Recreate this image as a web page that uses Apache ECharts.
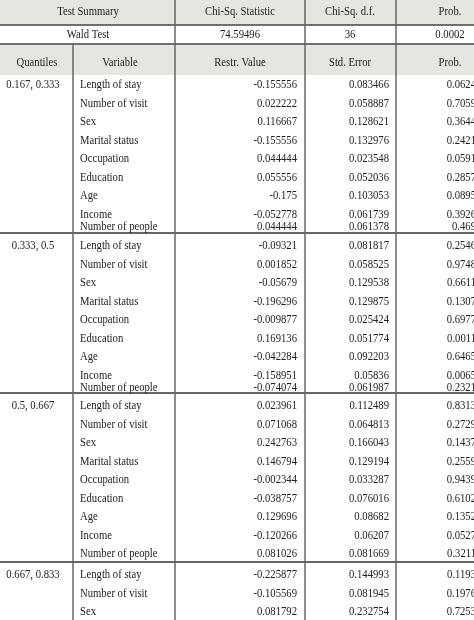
<!DOCTYPE html>
<html lang="en">
<head>
<meta charset="UTF-8">
<title>Wald Test</title>
<script src="https://cdn.jsdelivr.net/npm/echarts@6/dist/echarts.min.js"></script>
<style>html,body{margin:0;padding:0;background:#fff}</style>
</head>
<body>
<div id="main" style="width:474px;height:620px;"></div>
<script>
// table contents
var summaryHead = ['Test Summary', 'Chi-Sq. Statistic', 'Chi-Sq. d.f.', 'Prob.'];
var summaryRow = ['Wald Test', '74.59496', '36', '0.0002'];
var detailHead = ['Quantiles', 'Variable', 'Restr. Value', 'Std. Error', 'Prob.'];
var quantiles = ['0.167, 0.333', '0.333, 0.5', '0.5, 0.667', '0.667, 0.833'];
var variables = ['Length of stay', 'Number of visit', 'Sex', 'Marital status', 'Occupation',
    'Education', 'Age', 'Income', 'Number of people'];
var restrValue = [
    [-0.155556, 0.022222, 0.116667, -0.155556, 0.044444, 0.055556, -0.175, -0.052778, 0.044444],
    [-0.09321, 0.001852, -0.05679, -0.196296, -0.009877, 0.169136, -0.042284, -0.158951, -0.074074],
    [0.023961, 0.071068, 0.242763, 0.146794, -0.002344, -0.038757, 0.129696, -0.120266, 0.081026],
    [-0.225877, -0.105569, 0.081792]
];
var stdError = [
    [0.083466, 0.058887, 0.128621, 0.132976, 0.023548, 0.052036, 0.103053, 0.061739, 0.061378],
    [0.081817, 0.058525, 0.129538, 0.129875, 0.025424, 0.051774, 0.092203, 0.05836, 0.061987],
    [0.112489, 0.064813, 0.166043, 0.129194, 0.033287, 0.076016, 0.08682, 0.06207, 0.081669],
    [0.144993, 0.081945, 0.232754]
];
var prob = [
    [0.0624, 0.7059, 0.3644, 0.2421, 0.0591, 0.2857, 0.0895, 0.3926, 0.469],
    [0.2546, 0.9748, 0.6611, 0.1307, 0.6977, 0.0011, 0.6465, 0.0065, 0.2321],
    [0.8313, 0.2729, 0.1437, 0.2559, 0.9439, 0.6102, 0.1352, 0.0527, 0.3211],
    [0.1193, 0.1976, 0.7253]
];

// layout
var blockTop = [85, 246, 406, 575];
var squeezed = [true, true, false, false];
var step = 18.5;
var colLines = [175, 305, 396];
var font = '13px "Liberation Serif", "DejaVu Serif", serif';
var ink = '#222';

var chart = echarts.init(document.getElementById('main'));

function renderTable(params, api) {
    var kids = [];
    function P(x, y) { return api.coord([x, y]); }
    // text is a bit condensed in the original, squeeze it horizontally
    function txt(s, x, y, align) {
        var p = P(x, y);
        kids.push({ type: 'text', x: p[0], y: p[1], scaleX: 0.82,
            style: { text: s, x: 0, y: 0, font: font, fill: ink,
                align: align || 'center', verticalAlign: 'middle' } });
    }
    function rect(x0, y0, x1, y1, c) {
        var a = P(x0, y0), b = P(x1, y1);
        kids.push({ type: 'rect', shape: { x: a[0], y: a[1], width: b[0] - a[0], height: b[1] - a[1] },
            style: { fill: c } });
    }
    function line(x0, y0, x1, y1, c, w) {
        var a = P(x0, y0), b = P(x1, y1);
        kids.push({ type: 'line', shape: { x1: a[0], y1: a[1], x2: b[0], y2: b[1] },
            style: { stroke: c, lineWidth: w } });
    }
    rect(0, 0, 474, 25, '#e7e5e0');
    rect(0, 44, 474, 75, '#e7e5e0');

    var headX = [88, 240, 350, 450];
    summaryHead.forEach(function (s, i) { txt(s, headX[i], 12); });
    summaryRow.forEach(function (s, i) { txt(s, headX[i], 35); });
    var dX = [37, 120, 240, 350, 450];
    detailHead.forEach(function (s, i) { txt(s, dX[i], 63); });

    quantiles.forEach(function (q, b) {
        var top = blockTop[b];
        txt(q, 33, top);
        restrValue[b].forEach(function (v, r) {
            var y = top + r * step;
            if (squeezed[b] && r === 8) y = top + 7 * step + 12.5;
            txt(variables[r], 80, y, 'left');
            txt(String(v), 297, y, 'right');
            txt(String(stdError[b][r]), 389, y, 'right');
            txt(String(prob[b][r]), 476, y, 'right');
        });
        if (b > 0) line(0, top - 13, 474, top - 13, '#333', 1.5);
    });

    line(0, 25, 474, 25, '#444', 1.5);
    line(0, 44, 474, 44, '#444', 1.5);
    colLines.forEach(function (x) { line(x, 0, x, 620, '#666', 1.5); });
    line(73, 44, 73, 620, '#666', 1.5);
    return { type: 'group', children: kids };
}

var option = {
    animation: false,
    grid: { left: 0, right: 0, top: 0, bottom: 0 },
    xAxis: { type: 'value', min: 0, max: 474, show: false },
    yAxis: { type: 'value', min: 0, max: 620, inverse: true, show: false },
    series: [{
        type: 'custom',
        renderItem: renderTable,
        data: [[0, 0]],
        silent: true
    }]
};
chart.setOption(option);
</script>
</body>
</html>
